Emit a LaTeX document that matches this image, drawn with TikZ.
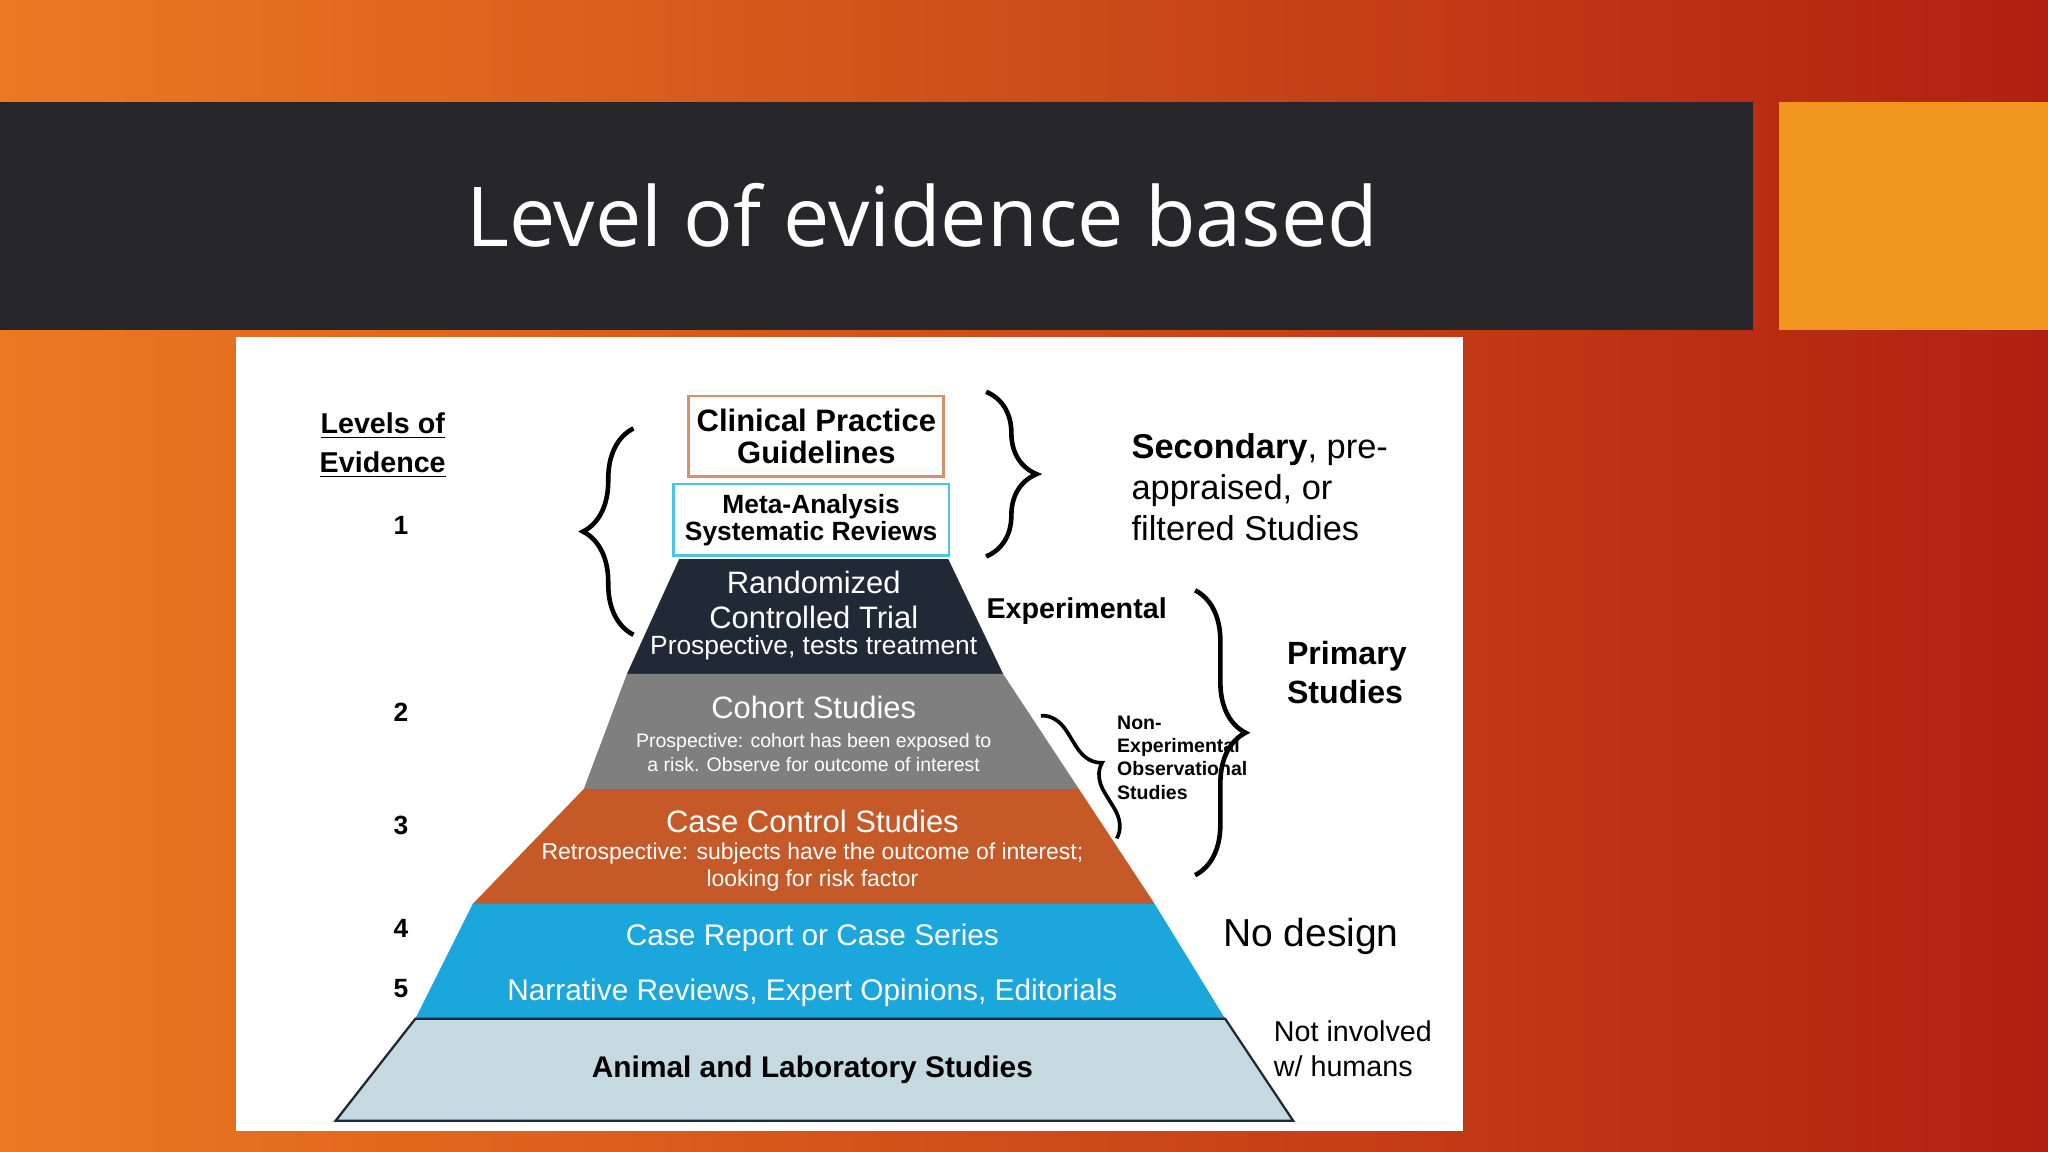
\documentclass[tikz,border=0pt]{standalone}
\usepackage{fontspec}
\setmainfont{Liberation Sans}
\newfontfamily\titlefont{Open Sans}
\usetikzlibrary{decorations.pathreplacing}
\definecolor{bgA}{HTML}{EC7A22}
\definecolor{bgB}{HTML}{B02010}
\definecolor{bar}{HTML}{27272B}
\definecolor{sq}{HTML}{F0961E}
\definecolor{rct}{HTML}{1F2A36}
\definecolor{coh}{HTML}{7F7F7F}
\definecolor{cc}{HTML}{C55A28}
\definecolor{blu}{HTML}{1BA6DC}
\definecolor{ani}{HTML}{C5D9E0}
\definecolor{tan}{HTML}{D8906A}
\definecolor{cyb}{HTML}{4DC3E6}
\newcommand{\fs}[1]{\fontsize{#1}{\fpeval{#1*1.2}}\selectfont}
\tikzset{
  lay/.style={draw=white, line width=0.8pt},
  wt/.style={text=white, font=\bfseries, align=center, inner sep=0pt},
  bk/.style={text=black, align=center, inner sep=0pt},
  br/.style={decorate, decoration={brace, amplitude=22pt}, line width=2pt, black},
}
\begin{document}
\begin{tikzpicture}[x=0.02cm, y=-0.02cm]
\useasboundingbox (0,0) rectangle (1568,882);
\shade[left color=bgA, right color=bgB] (0,0) rectangle (1568,882);
\fill[bar] (0,78) rectangle (1342,253);
\fill[sq] (1362,78) rectangle (1568,253);
\node[text=white, font=\titlefont\fs{36}] (title) at (706,165) {Level of evidence based};
\fill[white] (181,258) rectangle (1120,866);
% pyramid layers
\fill[rct] (520,428) -- (726,428) -- (768,516) -- (480,516) -- cycle;
\fill[coh] (480,516) -- (768,516) -- (826,604) -- (447,604) -- cycle;
\fill[cc] (447,604) -- (826,604) -- (884,692) -- (362,692) -- cycle;
\fill[blu] (362,692) -- (884,692) -- (938,780) -- (318,780) -- cycle;
\filldraw[fill=ani, draw=rct, line width=1pt] (318,780) -- (938,780) -- (990,858) -- (257,858) -- cycle;
% top boxes
\node[draw=tan, line width=1.2pt, minimum width=196*0.567pt, minimum height=62*0.567pt, fill=white] (cpg) at (625,334) {};
\node[bk, font=\bfseries\fs{13.5}] (cpgt) at (625,334) {Clinical Practice\\[-2pt]Guidelines};
\node[draw=cyb, line width=1.2pt, minimum width=212*0.567pt, minimum height=55*0.567pt, fill=white] (meta) at (621,398) {};
\node[bk, font=\bfseries\fs{11.5}] (metat) at (621,398) {Meta-Analysis\\[-2pt]Systematic Reviews};
% layer texts
\node[wt, font=\fs{13.5}] (r1) at (623,459) {Randomized\\[-1pt]Controlled Trial};
\node[wt, font=\fs{11.5}] (r2) at (623,496) {Prospective, tests treatment};
\node[wt, font=\fs{13.5}] (c1) at (623,542) {Cohort Studies};
\node[wt, font=\fs{8.5}] (c2) at (623,576) {Prospective: cohort has been exposed to\\a risk. Observe for outcome of interest};
\node[wt, font=\fs{13.5}] (k1) at (622,629) {Case Control Studies};
\node[wt, font=\fs{10}] (k2) at (622,664) {Retrospective: subjects have the outcome of interest;\\looking for risk factor};
\node[wt, font=\fs{13}] (b1) at (622,718) {Case Report or Case Series};
\node[wt, font=\fs{13}] (b2) at (622,760) {Narrative Reviews, Expert Opinions, Editorials};
\node[bk, font=\bfseries\fs{13}] (a1) at (622,819) {Animal and Laboratory Studies};
% left labels
\node[bk, font=\bfseries\fs{12.5}] (lev) at (293,341) {\underline{Levels of}\\[2pt]\underline{Evidence}};
\node[bk, font=\bfseries\fs{11.5}] (n1) at (307,402) {1};
\node[bk, font=\bfseries\fs{11.5}] (n2) at (307,545) {2};
\node[bk, font=\bfseries\fs{11.5}] (n3) at (307,632) {3};
\node[bk, font=\bfseries\fs{11.5}] (n4) at (307,711) {4};
\node[bk, font=\bfseries\fs{11.5}] (n5) at (307,757) {5};
% braces
\draw[br] (485,486) -- (485,328);
\draw[br] (755,300) -- (755,426);
\draw[br] (915,452) -- (915,670);
\draw[decorate, decoration={brace, amplitude=12pt}, line width=1.6pt] (797,548) -- (855,642);
% right labels
\node[bk, anchor=west, align=left, font=\fs{15}] (sec) at (866,373) {\textbf{Secondary}, pre-\\appraised, or\\filtered Studies};
\node[bk, anchor=west, font=\bfseries\fs{12.5}] (exp) at (755,468) {Experimental};
\node[bk, anchor=west, align=left, font=\bfseries\fs{14}] (pri) at (985,515) {Primary\\Studies};
\node[bk, anchor=west, align=left, font=\bfseries\fs{8.5}] (nonexp) at (855,580) {Non-\\Experimental\\Observational\\Studies};
\node[bk, anchor=west, font=\fs{17}] (nod) at (936,717) {No design};
\node[bk, anchor=west, align=left, font=\fs{12.5}] (not) at (975,803) {Not involved\\w/ humans};
\end{tikzpicture}
\end{document}
